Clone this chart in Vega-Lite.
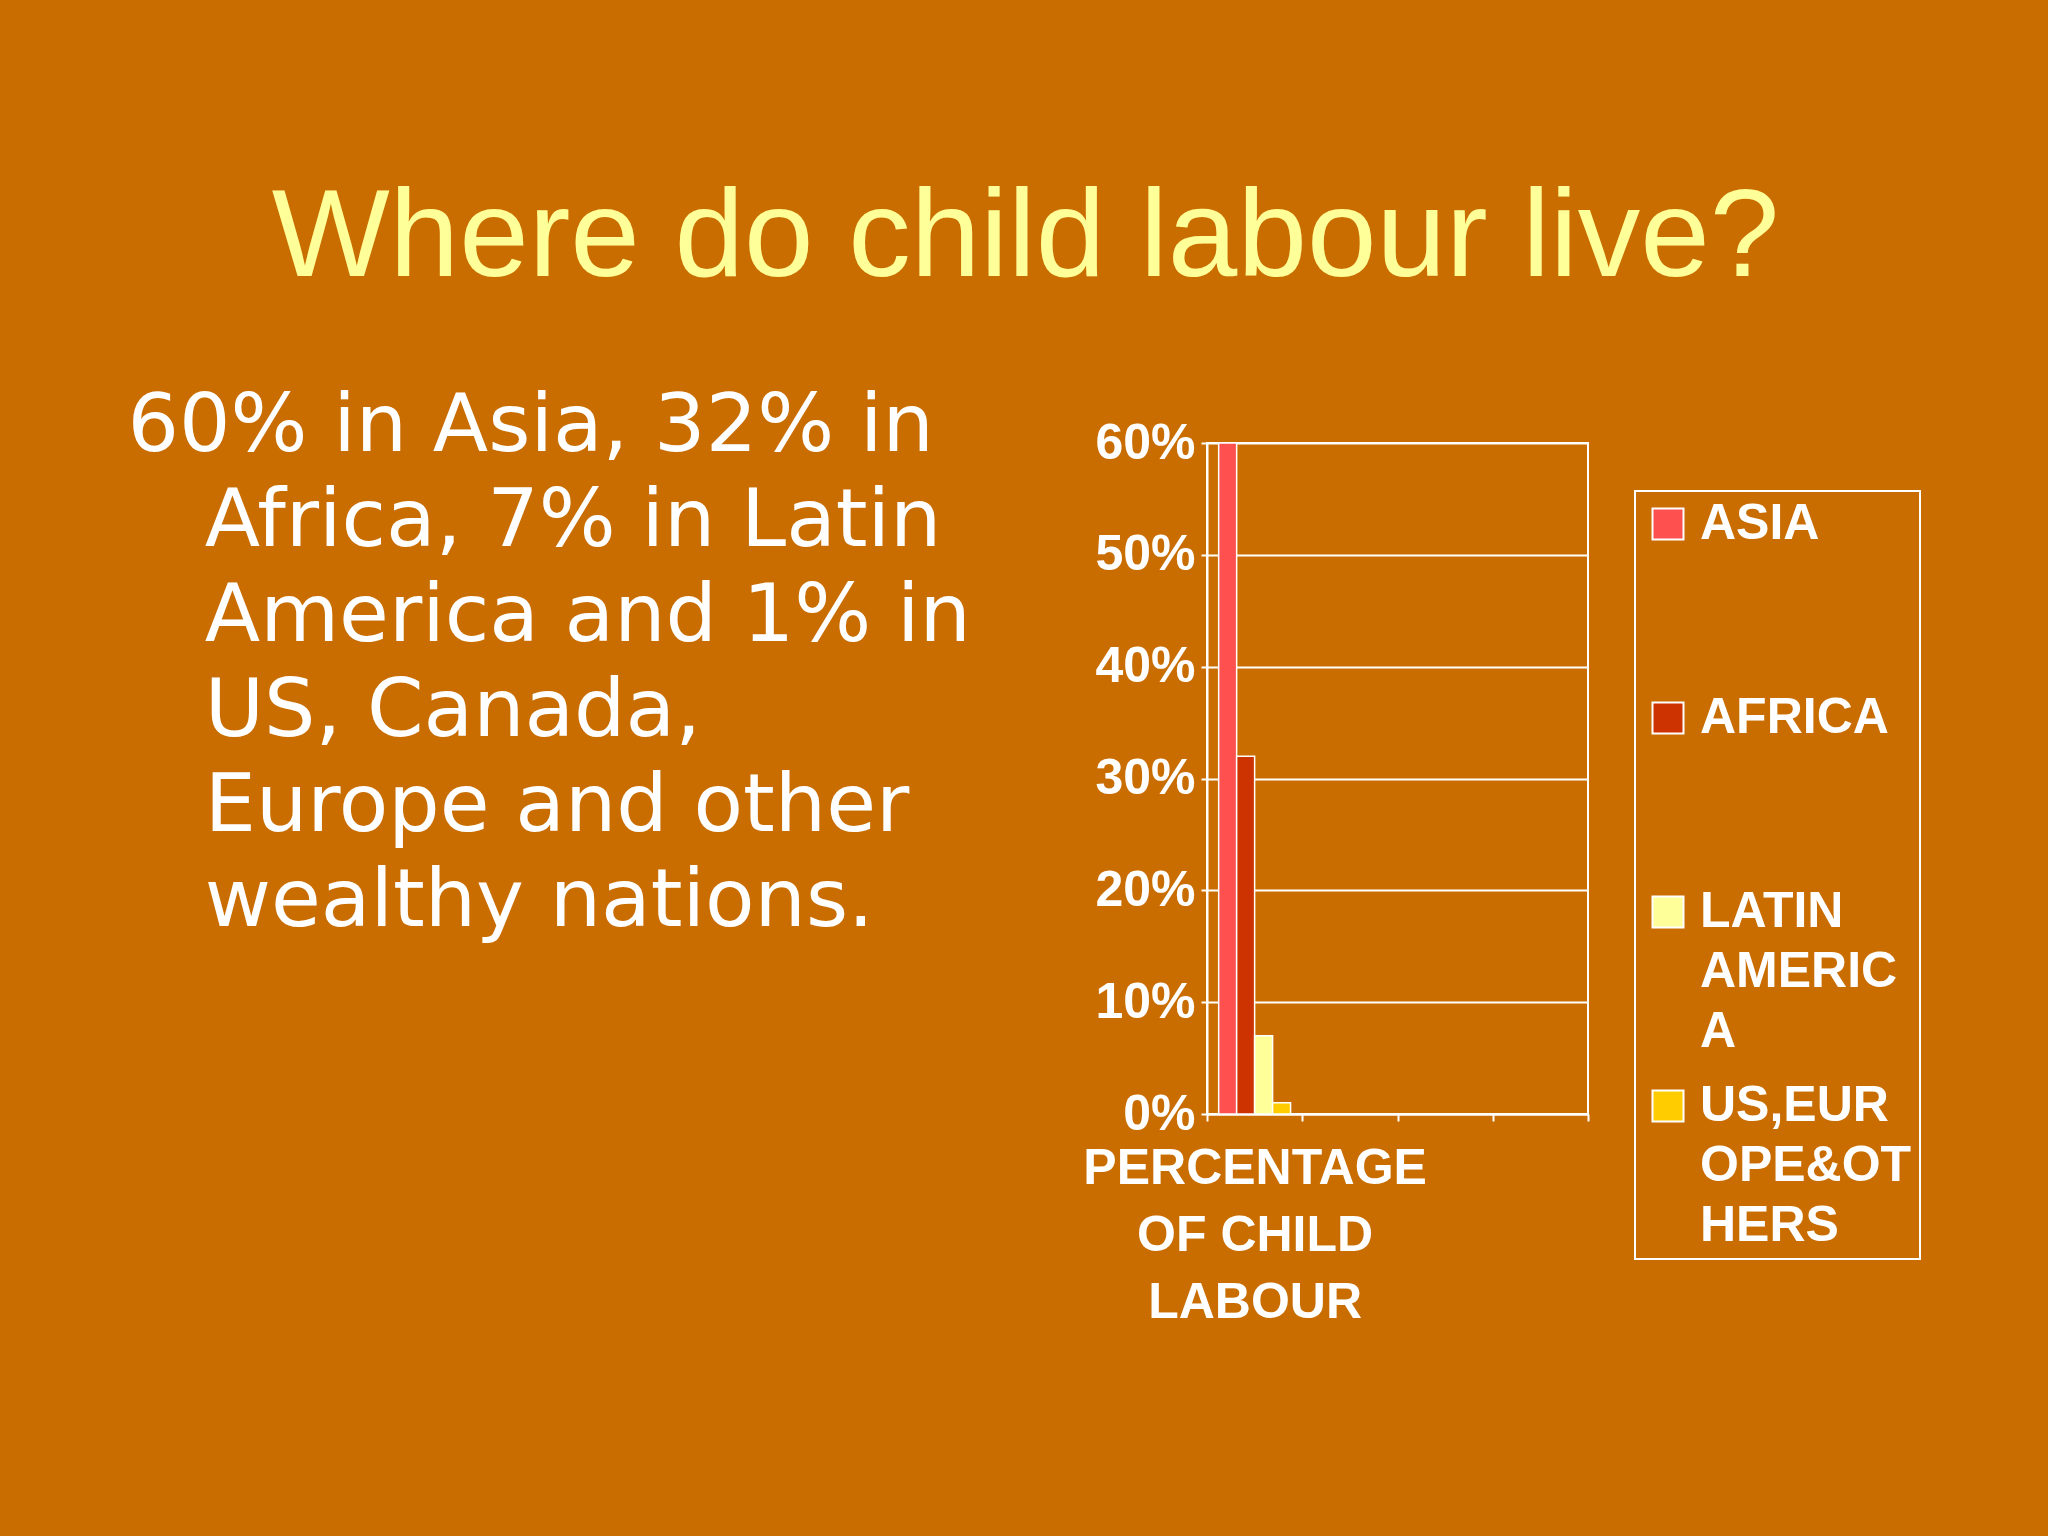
{
  "$schema": "https://vega.github.io/schema/vega-lite/v6.json",
  "autosize": {"type": "none"},
  "width": 381,
  "height": 671,
  "padding": {"left": 1207, "right": 460, "top": 443, "bottom": 422},
  "background": "#c96d00",
  "title": {
    "text": "Where do child labour live?",
    "anchor": "middle",
    "frame": "group",
    "dx": -372,
    "offset": 83,
    "font": "Liberation Sans",
    "fontSize": 125,
    "fontWeight": "normal",
    "color": "#FFFF99"
  },
  "config": {
    "view": {"stroke": "#ffffff", "strokeWidth": 2}
  },
  "data": {
    "values": [
      {"cat": "PERCENTAGE OF CHILD LABOUR", "region": "ASIA", "value": 0.60},
      {"cat": "PERCENTAGE OF CHILD LABOUR", "region": "AFRICA", "value": 0.32},
      {"cat": "PERCENTAGE OF CHILD LABOUR", "region": "LATIN AMERICA", "value": 0.07},
      {"cat": "PERCENTAGE OF CHILD LABOUR", "region": "US,EUROPE&OTHERS", "value": 0.01}
    ]
  },
  "mark": {"type": "bar", "stroke": "#ffffff", "strokeWidth": 1.5},
  "encoding": {
    "x": {
      "field": "cat", "type": "nominal",
      "scale": {"domain": ["PERCENTAGE OF CHILD LABOUR", " ", "  ", "   "], "paddingInner": 0, "paddingOuter": 0},
      "axis": {
        "title": null,
        "labelAngle": 0,
        "labelExpr": "datum.value == 'PERCENTAGE OF CHILD LABOUR' ? ['PERCENTAGE', 'OF CHILD', 'LABOUR'] : ''",
        "labelFont": "Liberation Sans",
        "labelFontWeight": "bold",
        "labelFontSize": 50,
        "labelLineHeight": 67,
        "labelColor": "#ffffff",
        "labelPadding": 22,
        "labelLimit": 0,
        "tickBand": "extent",
        "tickColor": "#ffffff",
        "tickWidth": 2,
        "tickSize": 7,
        "domainColor": "#ffffff",
        "domainWidth": 2
      }
    },
    "xOffset": {
      "field": "region", "type": "nominal",
      "sort": ["ASIA", "AFRICA", "LATIN AMERICA", "US,EUROPE&OTHERS"],
      "scale": {"paddingInner": 0, "paddingOuter": 0.65}
    },
    "y": {
      "field": "value", "type": "quantitative",
      "scale": {"domain": [0, 0.6], "nice": false},
      "axis": {
        "values": [0, 0.1, 0.2, 0.3, 0.4, 0.5, 0.6],
        "format": ".0%",
        "labelFont": "Liberation Sans",
        "labelFontWeight": "bold",
        "labelFontSize": 50,
        "labelColor": "#ffffff",
        "labelPadding": 6,
        "tickColor": "#ffffff",
        "tickWidth": 2,
        "tickSize": 6,
        "domainColor": "#ffffff",
        "domainWidth": 2,
        "grid": true,
        "gridColor": "#ffffff",
        "gridWidth": 2,
        "gridOpacity": 1,
        "title": ["60% in Asia, 32% in", "\u200b\u00a0\u00a0\u00a0Africa, 7% in Latin", "\u200b\u00a0\u00a0\u00a0America and 1% in", "\u200b\u00a0\u00a0\u00a0US, Canada,", "\u200b\u00a0\u00a0\u00a0Europe and other", "\u200b\u00a0\u00a0\u00a0wealthy nations."],
        "titleAngle": 0,
        "titleAlign": "left",
        "titleAnchor": "start",
        "titleBaseline": "alphabetic",
        "titleX": -1080,
        "titleY": 7,
        "titleFont": "DejaVu Sans",
        "titleFontSize": 81,
        "titleFontWeight": "normal",
        "titleLineHeight": 95,
        "titleColor": "#ffffff"
      }
    },
    "color": {
      "field": "region", "type": "nominal",
      "scale": {"domain": ["ASIA", "AFRICA", "LATIN AMERICA", "US,EUROPE&OTHERS"], "range": ["#ff5050", "#cc3300", "#ffff99", "#ffcc00"]},
      "legend": {
        "title": null,
        "orient": "none",
        "legendX": 428,
        "legendY": 48,
        "direction": "vertical",
        "labelExpr": "datum.label == 'LATIN AMERICA' ? ['LATIN', 'AMERIC', 'A'] : datum.label == 'US,EUROPE&OTHERS' ? ['US,EUR', 'OPE&OT', 'HERS'] : [datum.label, '', '']",
        "labelFont": "Liberation Sans",
        "labelFontWeight": "bold",
        "labelFontSize": 50,
        "labelColor": "#ffffff",
        "labelBaseline": "middle",
        "labelOffset": 7,
        "labelLimit": 0,
        "symbolType": "square",
        "symbolSize": 961,
        "symbolStrokeColor": "#ffffff",
        "symbolStrokeWidth": 2,
        "symbolOpacity": 1,
        "rowPadding": 24,
        "padding": 8,
        "strokeColor": "#ffffff",
        "encode": {
          "legend": {"update": {"strokeWidth": {"value": 2}}},
          "labels": {"update": {"lineHeight": {"value": 60}}}
        }
      }
    }
  }
}
